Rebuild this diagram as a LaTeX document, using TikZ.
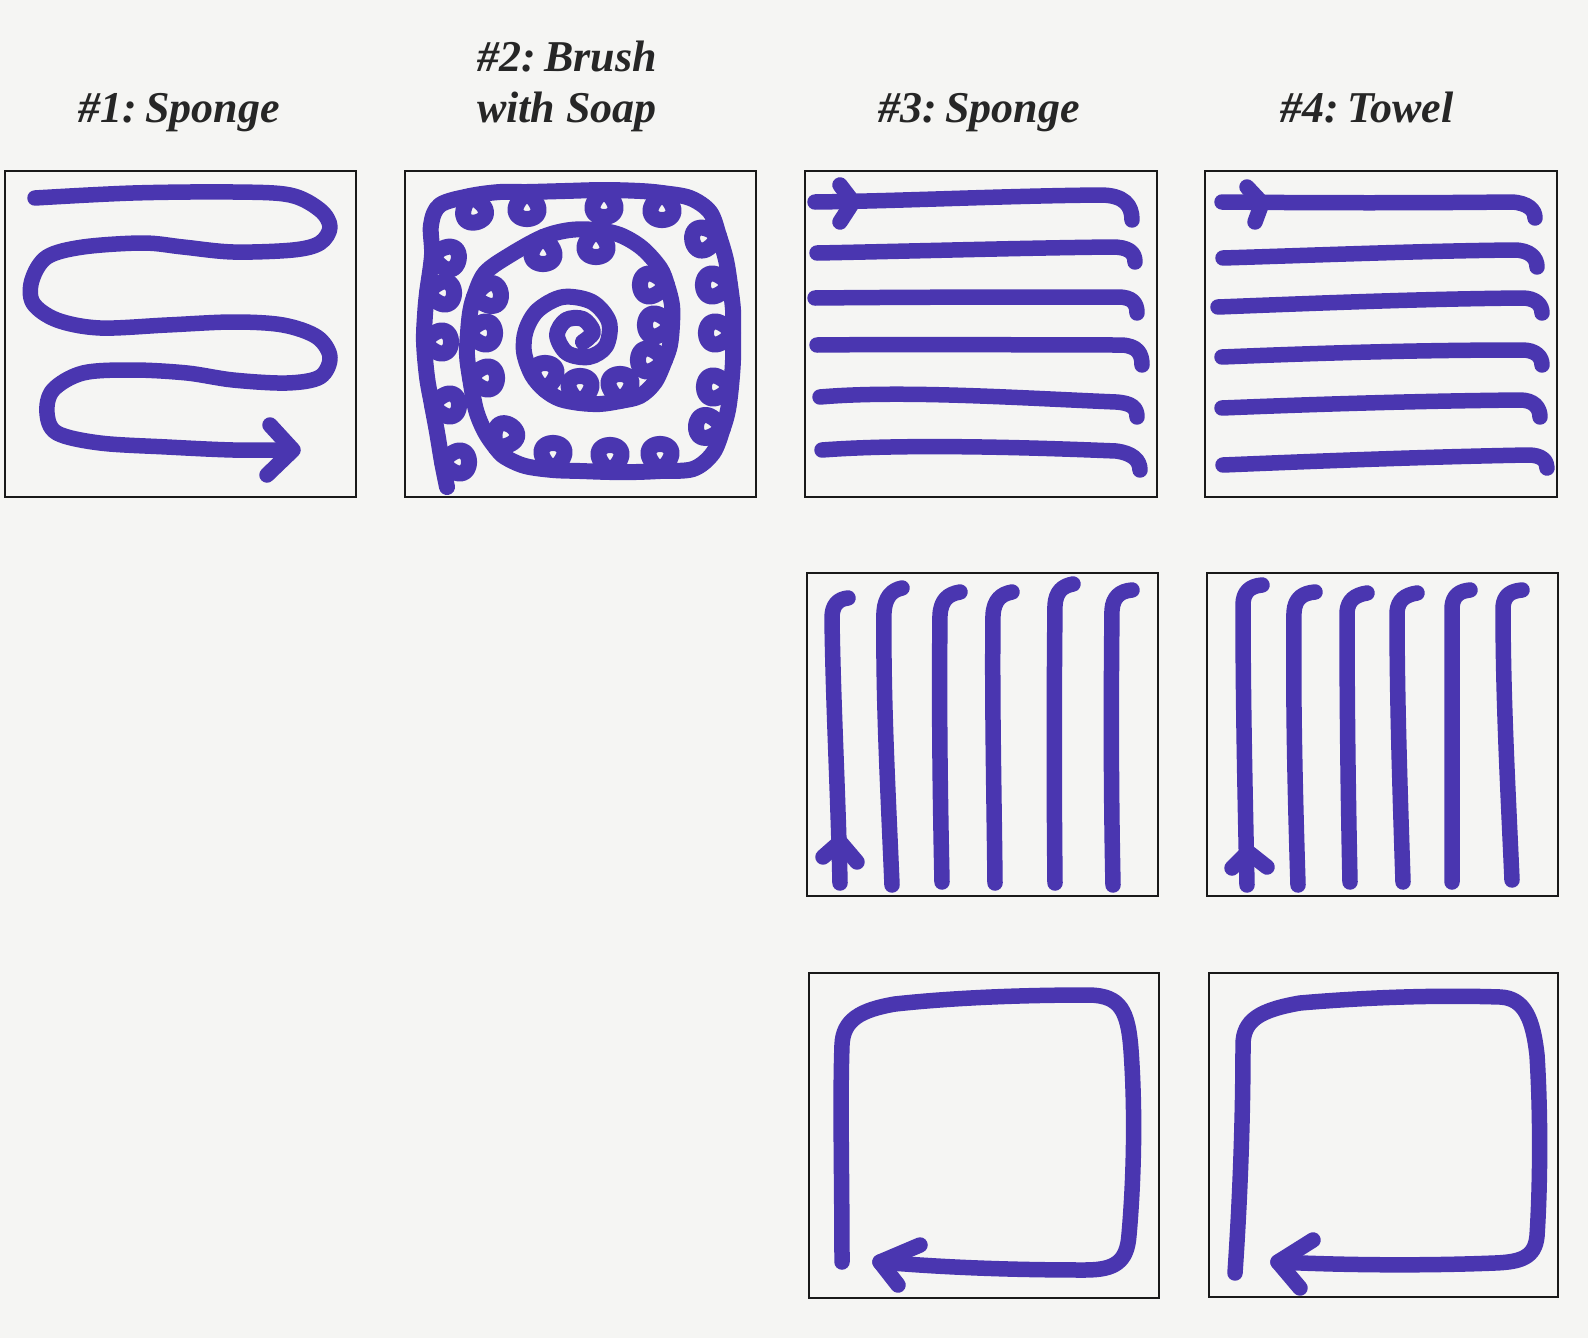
\documentclass[tikz,border=0pt]{standalone}
\usepackage{fontspec}
\setmainfont{Liberation Serif}
\usetikzlibrary{calc}
\definecolor{ink}{RGB}{74,54,176}
\definecolor{paper}{RGB}{245,245,243}
\tikzset{
  inkline/.style={draw=ink, line width=15.5pt, line cap=round, line join=round},
  spiralline/.style={draw=ink, line width=16pt, line cap=round, line join=round},
  panelbox/.style={draw=black!90, line width=1.8pt},
  titletext/.style={font=\fontsize{44}{50}\selectfont\bfseries\itshape, text=black!85, anchor=base, inner sep=0pt},
}
\newcommand\curl[3]{\draw[spiralline] (#1,#2) .. controls ($(#1,#2)+(#3+48:54)$) and ($(#1,#2)+(#3-48:54)$) .. (#1,#2);}
\begin{document}
\begin{tikzpicture}[x=1pt,y=-1pt]
\fill[paper] (0,0) rectangle (1588,1338);
\useasboundingbox (0,0) rectangle (1588,1338);

% titles
\node[titletext] (t1) at (179,122) {\#1:\hspace{0.2em}Sponge};
\node[titletext] (t2a) at (567,72) {\#2:\hspace{0.2em}Brush};
\node[titletext] (t2b) at (567,122) {with Soap};
\node[titletext] (t3) at (979,122) {\#3:\hspace{0.2em}Sponge};
\node[titletext] (t4) at (1367,122) {\#4:\hspace{0.2em}Towel};

% boxes
\draw[panelbox] (5,171) rectangle (356,497);
\draw[panelbox] (405,171) rectangle (756,497);
\draw[panelbox] (805,171) rectangle (1157,497);
\draw[panelbox] (1205,171) rectangle (1557,497);
\draw[panelbox] (807,573) rectangle (1158,896);
\draw[panelbox] (1207,573) rectangle (1558,896);
\draw[panelbox] (809,973) rectangle (1159,1298);
\draw[panelbox] (1209,973) rectangle (1558,1297);

% panel 1: serpentine
\draw[inkline] plot[smooth, tension=0.55] coordinates {
 (35,198) (133,193) (233,192) (290,195) (320,210) (330,227) (320,243)
 (293,250) (233,252) (183,247) (143,243) (83,247) (47,257) (32,280)
 (33,303) (57,320) (100,328) (167,325) (233,322) (283,325) (317,337)
 (330,357) (320,377) (287,383) (233,380) (187,373) (133,370) (83,373)
 (53,390) (47,413) (57,433) (100,443) (167,447) (233,450) (292,450)};
\draw[inkline] (270,425) -- (293,450) -- (267,475);

% panel 2: spiral with curls
\draw[spiralline] plot[smooth, tension=0.55] coordinates {
 (447,487) (442,462) (437,432) (432,405) (427,377) (424,342) (425,315)
 (427,293) (432,255) (431,225) (440,205) (470,196) (500,192) (527,192)
 (565,191) (604,190) (640,191) (662,193) (690,198) (710,212) (719,236)
 (726,260) (730,285) (733,310) (733,333) (733,360) (731,387) (728,410)
 (723,428) (713,453) (693,469) (660,471) (636,472) (610,472) (580,471)
 (553,470) (525,466) (505,457) (496,448) (485,432) (476,410) (470,378)
 (467,355) (468,333) (470,313) (474,297) (485,273) (510,255) (543,237)
 (570,230) (596,230) (620,235) (642,248) (660,268) (667,285) (672,305)
 (672,325) (670,345) (665,360) (655,382) (640,396) (620,401) (600,404)
 (580,403) (560,399) (545,390) (532,375) (524,352) (526,330) (538,310)
 (563,297) (592,302) (609,322) (606,346) (589,357) (567,353) (557,335)
 (566,320) (583,319) (593,332) (583,342)};
% outer ring curls
\curl{442}{462}{0}
\curl{432}{405}{0}
\curl{424}{342}{0}
\curl{427}{293}{0}
\curl{432}{255}{10}
\curl{470}{196}{75}
\curl{527}{192}{90}
\curl{604}{190}{90}
\curl{662}{193}{90}
\curl{719}{236}{170}
\curl{730}{285}{180}
\curl{733}{333}{180}
\curl{731}{387}{180}
\curl{723}{428}{185}
\curl{660}{471}{270}
\curl{610}{472}{270}
\curl{553}{470}{270}
\curl{496}{448}{305}
% middle ring curls
\curl{470}{378}{0}
\curl{468}{333}{0}
\curl{474}{297}{352}
\curl{543}{237}{90}
\curl{596}{230}{90}
\curl{667}{285}{180}
\curl{672}{325}{180}
\curl{665}{360}{180}
\curl{620}{401}{270}
\curl{580}{403}{270}
\curl{545}{390}{270}

% panel 3 row 1
\draw[inkline] (815,202) .. controls (900,201) and (1000,196) .. (1100,195) .. controls (1124,195) and (1132,205) .. (1132,220);
\draw[inkline] (840,185) -- (853,202) -- (840,222);
\draw[inkline] (817,253) .. controls (920,251) and (1020,248) .. (1112,247) .. controls (1128,247) and (1135,252) .. (1135,262);
\draw[inkline] (815,298) .. controls (920,297) and (1020,297) .. (1118,297) .. controls (1132,297) and (1137,303) .. (1137,313);
\draw[inkline] (817,345) .. controls (920,344) and (1020,345) .. (1122,345) .. controls (1137,346) and (1142,353) .. (1142,365);
\draw[inkline] (820,397) .. controls (900,390) and (1020,398) .. (1116,402) .. controls (1132,403) and (1137,408) .. (1137,417);
\draw[inkline] (822,450) .. controls (900,444) and (1020,447) .. (1116,451) .. controls (1132,453) and (1140,460) .. (1140,470);

% panel 4 row 1
\draw[inkline] (1222,202) .. controls (1320,203) and (1420,203) .. (1512,202) .. controls (1528,203) and (1535,210) .. (1535,218);
\draw[inkline] (1247,187) -- (1262,203) -- (1255,222);
\draw[inkline] (1223,258) .. controls (1320,255) and (1420,251) .. (1514,250) .. controls (1530,250) and (1537,258) .. (1537,267);
\draw[inkline] (1218,307) .. controls (1320,303) and (1420,299) .. (1522,298) .. controls (1536,298) and (1542,305) .. (1542,313);
\draw[inkline] (1222,357) .. controls (1320,353) and (1420,350) .. (1522,350) .. controls (1536,350) and (1542,357) .. (1542,365);
\draw[inkline] (1222,408) .. controls (1320,404) and (1420,401) .. (1520,400) .. controls (1534,400) and (1540,408) .. (1540,417);
\draw[inkline] (1223,465) .. controls (1320,461) and (1420,457) .. (1528,455) .. controls (1542,455) and (1547,461) .. (1547,468);

% panel 3 row 2
\draw[inkline] (840,883) .. controls (838,790) and (833,700) .. (832,618) .. controls (832,605) and (838,599) .. (848,598);
\draw[inkline] (823,857) -- (840,842) -- (857,862);
\draw[inkline] (892,885) .. controls (888,790) and (883,700) .. (884,612) .. controls (885,597) and (892,590) .. (902,588);
\draw[inkline] (942,882) .. controls (940,790) and (939,700) .. (940,615) .. controls (941,600) and (948,594) .. (960,592);
\draw[inkline] (995,883) .. controls (994,790) and (992,700) .. (993,615) .. controls (994,600) and (1001,594) .. (1012,592);
\draw[inkline] (1055,883) .. controls (1054,790) and (1054,700) .. (1055,605) .. controls (1056,592) and (1062,586) .. (1073,584);
\draw[inkline] (1113,885) .. controls (1111,790) and (1111,700) .. (1112,610) .. controls (1113,597) and (1120,591) .. (1132,590);

% panel 4 row 2
\draw[inkline] (1247,885) .. controls (1245,790) and (1243,700) .. (1243,605) .. controls (1243,592) and (1250,586) .. (1262,585);
\draw[inkline] (1232,868) -- (1248,852) -- (1267,867);
\draw[inkline] (1298,885) .. controls (1295,790) and (1293,700) .. (1294,612) .. controls (1295,598) and (1303,593) .. (1315,592);
\draw[inkline] (1350,882) .. controls (1348,790) and (1347,700) .. (1347,612) .. controls (1348,600) and (1355,595) .. (1367,593);
\draw[inkline] (1403,882) .. controls (1400,790) and (1397,700) .. (1397,612) .. controls (1398,600) and (1405,595) .. (1417,593);
\draw[inkline] (1452,882) .. controls (1452,790) and (1452,700) .. (1452,607) .. controls (1453,595) and (1460,591) .. (1470,590);
\draw[inkline] (1512,880) .. controls (1508,790) and (1503,700) .. (1503,607) .. controls (1504,595) and (1511,591) .. (1522,590);

% panel 3 row 3
\draw[inkline] (842,1262) .. controls (842,1180) and (840,1100) .. (842,1045)
  .. controls (843,1020) and (860,1010) .. (895,1004)
  .. controls (960,997) and (1030,995) .. (1090,995)
  .. controls (1120,996) and (1128,1010) .. (1131,1050)
  .. controls (1136,1120) and (1133,1190) .. (1129,1235)
  .. controls (1127,1262) and (1115,1270) .. (1085,1270)
  .. controls (1020,1270) and (950,1268) .. (880,1262);
\draw[inkline] (920,1245) -- (880,1262) -- (898,1285);

% panel 4 row 3
\draw[inkline] (1235,1273) .. controls (1240,1200) and (1243,1120) .. (1243,1045)
  .. controls (1243,1020) and (1260,1010) .. (1300,1003)
  .. controls (1370,997) and (1440,995) .. (1500,997)
  .. controls (1525,998) and (1533,1020) .. (1537,1055)
  .. controls (1541,1120) and (1540,1190) .. (1537,1236)
  .. controls (1535,1258) and (1520,1262) .. (1495,1263)
  .. controls (1420,1266) and (1340,1265) .. (1278,1262);
\draw[inkline] (1313,1240) -- (1278,1262) -- (1300,1288);
\end{tikzpicture}
\end{document}
